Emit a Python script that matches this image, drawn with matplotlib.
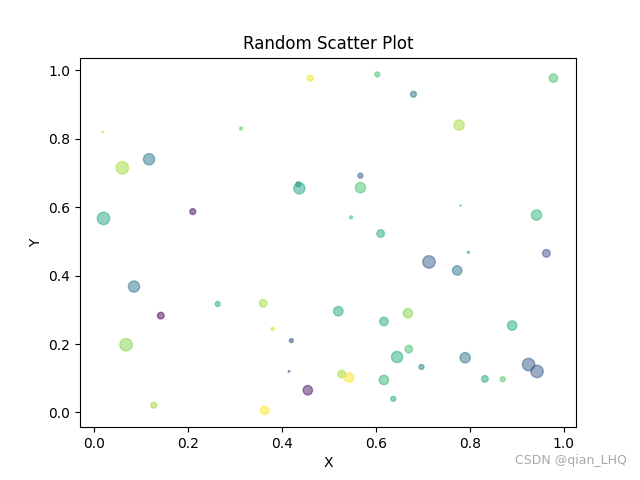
import numpy as np
import matplotlib
matplotlib.use('Agg')
import matplotlib.pyplot as plt

# values
x = [0.018, 0.060, 0.117, 0.020, 0.210, 0.313, 0.460, 0.435, 0.437, 0.603,
     0.680, 0.777, 0.978, 0.567, 0.567, 0.547, 0.780, 0.942, 0.610, 0.713,
     0.773, 0.797, 0.963, 0.085, 0.142, 0.068, 0.263, 0.360, 0.380, 0.420,
     0.415, 0.455, 0.127, 0.363, 0.520, 0.617, 0.668, 0.670, 0.645, 0.697,
     0.527, 0.543, 0.617, 0.637, 0.790, 0.832, 0.870, 0.925, 0.943, 0.890]
y = [0.820, 0.715, 0.740, 0.567, 0.587, 0.830, 0.977, 0.667, 0.655, 0.988,
     0.930, 0.840, 0.977, 0.692, 0.657, 0.570, 0.605, 0.577, 0.523, 0.440,
     0.415, 0.468, 0.465, 0.368, 0.283, 0.198, 0.317, 0.319, 0.244, 0.210,
     0.120, 0.065, 0.021, 0.006, 0.296, 0.266, 0.290, 0.185, 0.162, 0.133,
     0.112, 0.102, 0.095, 0.040, 0.160, 0.098, 0.097, 0.140, 0.120, 0.254]
colors = [0.85, 0.85, 0.40, 0.60, 0.05, 0.75, 0.95, 0.45, 0.60, 0.70,
          0.40, 0.85, 0.70, 0.30, 0.70, 0.70, 0.55, 0.65, 0.60, 0.30,
          0.40, 0.55, 0.25, 0.40, 0.02, 0.80, 0.62, 0.85, 0.92, 0.25,
          0.25, 0.08, 0.85, 0.98, 0.60, 0.60, 0.80, 0.70, 0.60, 0.45,
          0.85, 0.97, 0.65, 0.62, 0.40, 0.60, 0.72, 0.30, 0.30, 0.60]
sizes = [0.8, 80, 65, 80, 18, 5, 18, 13, 65, 13,
         18, 55, 37, 13, 55, 5, 0.5, 55, 30, 80,
         46, 2, 30, 65, 23, 80, 13, 30, 5, 8,
         1.5, 46, 18, 37, 46, 37, 46, 30, 65, 13,
         30, 46, 46, 13, 55, 23, 13, 80, 80, 46]

plt.scatter(x, y, s=sizes, c=colors, cmap='viridis', alpha=0.5)
plt.title('Random Scatter Plot')
plt.xlabel('X')
plt.ylabel('Y')
plt.gcf().text(0.805, 0.033, 'CSDN @qian_LHQ', color='#a8a8a8', fontsize=9)
plt.savefig('out.png', dpi=100)
